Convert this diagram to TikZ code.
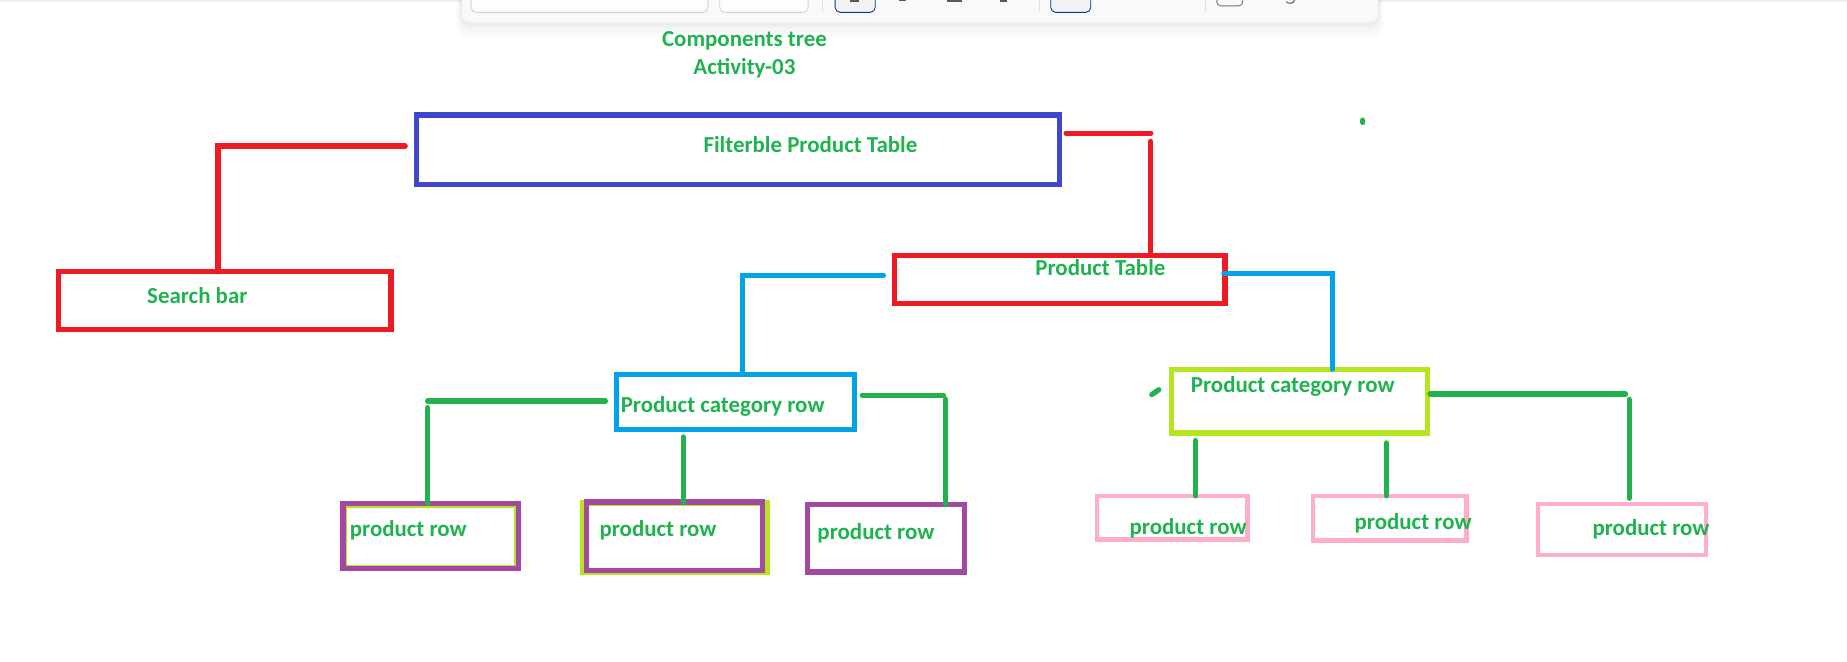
\documentclass[tikz,border=0pt]{standalone}
\usepackage{fontspec}
\usetikzlibrary{calc}
\setmainfont{Carlito}
\definecolor{cblue}{HTML}{3F48CC}
\definecolor{cred}{HTML}{ED1C24}
\definecolor{ccyan}{HTML}{00A2E8}
\definecolor{clime}{HTML}{B5E61D}
\definecolor{cpurple}{HTML}{A349A4}
\definecolor{cpink}{HTML}{FFAEC9}
\definecolor{cgreen}{HTML}{22B14C}
\definecolor{ctext}{HTML}{1FB34F}
\definecolor{cpanel}{HTML}{F9F9F9}
\definecolor{cfield}{HTML}{FDFDFD}
\definecolor{cedge}{HTML}{D4D4D4}
\definecolor{cbtn}{HTML}{003E92}
\tikzset{
  x=1.17793pt,y=-1.17793pt,
  boxline/.style={draw=#1,line width=5.4pt,inner sep=0pt,outer sep=0pt,shape=rectangle},
  thinbox/.style={draw=#1,line width=4.6pt,inner sep=0pt,outer sep=0pt,shape=rectangle},
  link/.style={draw=#1,line width=5.2pt,line cap=round,line join=miter},
  lbl/.style={anchor=base west,inner sep=0pt,outer sep=0pt,text=ctext,font=\fontsize{22.9}{27}\selectfont\bfseries},
  ttl/.style={anchor=base,inner sep=0pt,outer sep=0pt,text=ctext,font=\fontsize{22.9}{27}\selectfont\bfseries},
  field/.style={draw=cedge,line width=0.9pt,fill=cfield,rounded corners=5pt},
  btn/.style={draw=cbtn,line width=0.9pt,fill=cpanel!97!black,rounded corners=5pt},
  sepline/.style={draw=cedge!70,line width=0.8pt},
  glyph/.style={fill=black!65,draw=none},
}
\newcommand{\bx}[6]{%
  \pgfmathsetmacro\cxv{(#3+#5)/2}%
  \pgfmathsetmacro\cyv{(#4+#6)/2}%
  \pgfmathsetmacro\wv{(#5-#3)*1.17793}%
  \pgfmathsetmacro\hv{(#6-#4)*1.17793}%
  \node[#1,minimum width=\wv pt,minimum height=\hv pt] (#2) at (\cxv,\cyv) {};}
\begin{document}
\begin{tikzpicture}
\useasboundingbox[fill=white] (0,0) rectangle (1568,562);
% browser strip and toolbar
\fill[black!6] (0,0) rectangle (1568,1.6);
\foreach \s/\o in {14/.007,11/.010,8/.014,5/.018,3/.024}{
  \fill[black,opacity=\o,rounded corners=9pt] (392-\s*.35,-20) rectangle (1170+\s*.35,19+\s);
}
\fill[cpanel,rounded corners=8pt] (392,-20) rectangle (1170,19);
\draw[field] (400,-20) rectangle (601,10.5);
\draw[field] (611,-20) rectangle (686,10.5);
\draw[sepline] (698,-2) -- (698,10);
\draw[btn] (709,-20) rectangle (743,10.5);
\fill[glyph] (722,0) rectangle (729,1.6);
\fill[glyph] (763,0) rectangle (769,1.2);
\fill[glyph] (804,0) rectangle (817,1.6);
\fill[glyph] (849,0) rectangle (855,1.6);
\draw[sepline] (882,-2) -- (882,10);
\draw[btn] (892,-20) rectangle (926,10.5);
\draw[sepline] (1023,-2) -- (1023,10);
\draw[draw=black!55,line width=0.9pt,fill=cpanel,rounded corners=4pt] (1033,-20) rectangle (1055,5);
\draw[black!65,line width=1pt] (1092,1.5) .. controls (1094,3.5) and (1098,3.5) .. (1099,0);
% titles
\node[ttl] (title1) at (632,39.5) {Components tree};
\node[ttl] (title2) at (632,63) {Activity-03};
% boxes
\bx{boxline=cblue}{filter}{353.7}{97.5}{899.5}{156.7}
\bx{boxline=cred}{search}{49.5}{230.7}{332}{279.7}
\bx{boxline=cred}{ptable}{759.5}{216.7}{1040}{257.7}
\bx{boxline=ccyan}{catl}{523.5}{318}{725.5}{364.7}
\bx{boxline=clime}{catr}{994.5}{313.5}{1212}{367.7}
\bx{thinbox=clime}{limea}{293}{429}{438.5}{481.5}
\bx{boxline=cpurple}{pra}{291.3}{427.5}{440.2}{482.7}
\bx{boxline=clime}{limeb}{495}{427}{651}{485.7}
\bx{boxline=cpurple}{prb}{497.7}{426.3}{647.3}{484.2}
\bx{boxline=cpurple}{prc}{685.3}{428.3}{818.8}{485.7}
\bx{thinbox=cpink}{pka}{931.2}{421}{1059.3}{458}
\bx{thinbox=cpink}{pkb}{1114.8}{421}{1245.2}{458.7}
\bx{thinbox=cpink}{pkc}{1305.8}{428}{1448.2}{471}
% labels
\node[lbl] (lfilter) at (597.3,129.7) {Filterble Product Table};
\node[lbl] (lsearch) at (125,257.7) {Search bar};
\node[lbl] (lptable) at (879,233.7) {Product Table};
\node[lbl] (lcatl) at (527,350.3) {Product category row};
\node[lbl] (lcatr) at (1011,333.3) {Product category row};
\node[lbl] (lpra) at (297,455.7) {product row};
\node[lbl] (lprb) at (509,455.7) {product row};
\node[lbl] (lprc) at (694,457.7) {product row};
\node[lbl] (lpka) at (959,453.7) {product row};
\node[lbl] (lpkb) at (1150,449.7) {product row};
\node[lbl] (lpkc) at (1352,454.7) {product row};
% free ends of the hand-drawn connectors
\coordinate (a1) at (344,124);
\coordinate (a2) at (185,124);
\coordinate (b1) at (905,113);
\coordinate (b2) at (977,113);
\coordinate (b3) at (977,120);
\coordinate (c1) at (750,234);
\coordinate (c2) at (630,234);
\coordinate (d1) at (1039,232);
\coordinate (d2) at (1131,232);
\coordinate (e1) at (514,340.5);
\coordinate (e2) at (363,340.5);
\coordinate (e3) at (363,346);
\coordinate (f1) at (580,371);
\coordinate (g1) at (732,335.5);
\coordinate (g2) at (801,335.5);
\coordinate (g3) at (803,339);
\coordinate (h1) at (1015,374);
\coordinate (i1) at (1177,376);
\coordinate (j1) at (1214,334.5);
\coordinate (j2) at (1380,334.5);
\coordinate (j3) at (1383,339);
\coordinate (k1) at (977.8,335);
\coordinate (k2) at (983.8,330.8);
\coordinate (m1) at (1157,102);
\coordinate (m2) at (1157,104);
% connectors
\draw[link=cred] (a1) -- (a2) -- (a2 |- search.north);
\draw[link=cred] (b1) -- (b2);
\draw[link=cred] (b3) -- (b3 |- ptable.north);
\draw[link=ccyan] (c1) -- (c2) -- (c2 |- catl.north);
\draw[link=ccyan] (d1) -- (d2) -- (d2 |- catr.north);
\draw[link=cgreen] (e1) -- (e2);
\draw[link=cgreen] (e3) -- (e3 |- pra.north);
\draw[link=cgreen] (f1) -- (f1 |- prb.north);
\draw[link=cgreen] (g1) -- (g2);
\draw[link=cgreen] (g3) -- (g3 |- prc.north);
\draw[link=cgreen] (h1) -- (h1 |- pka.north);
\draw[link=cgreen] (i1) -- (i1 |- pkb.north);
\draw[link=cgreen] (j1) -- (j2);
\draw[link=cgreen] (j3) -- ($(j3 |- pkc.north)+(0,-5)$);
\draw[link=cgreen] (k1) -- (k2);
\draw[link=cgreen] (m1) -- (m2);
\end{tikzpicture}
\end{document}
